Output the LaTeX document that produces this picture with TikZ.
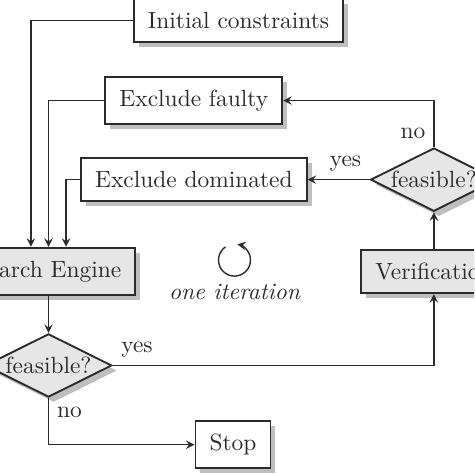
\documentclass[tikz,border=0pt]{standalone}
\usetikzlibrary{arrows,positioning,shapes.geometric,shadows}
\definecolor{ink}{HTML}{2B2B2B}
\definecolor{proc}{HTML}{E6E6E6}
\tikzset{
  >=stealth,
  every node/.style={text=ink},
  box/.style={draw=ink,thick,fill=white,inner xsep=6pt,inner ysep=5.6pt,drop shadow},
  procbox/.style={box,fill=proc},
  decision/.style={diamond,aspect=2,inner sep=0.5pt,draw=ink,thick,fill=proc,drop shadow},
  arrow/.style={->,semithick,draw=ink},
}
\begin{document}
\begin{tikzpicture}[node distance=5.5mm and 33.6mm]
\path[use as bounding box,clip] (-7.275mm,-30.375mm) rectangle (63.825mm,40.725mm);

\node[procbox] (search) {Search Engine};
\node[decision,below=of search] (feas1) {feasible?};
\node[procbox,right=of search] (verif) {Verification};
\node[decision,above=of verif] (feas2) {feasible?};
\node[box,left=9.3mm of feas2] (dominated) {Exclude dominated};
\node[box,above=4.8mm of dominated] (faulty) {Exclude faulty};
\node[box,above=5mm of faulty,xshift=6.7mm] (init) {Initial constraints};
\node[box,below right=3.3mm and 21.9mm of feas1.south] (stop) {Stop};

% one iteration
\node[font=\itshape] (iter) at (27.9mm,-3.1mm) {one iteration};
\draw[arrow] (iter.north) ++(0,2.4mm) ++(125:2.4mm) arc[start angle=125,end angle=440,radius=2.4mm];

\draw[arrow] (init.west) -| ([xshift=-7.5pt]search.north);
\draw[arrow] (faulty.west) -| (search.north);
\draw[arrow] (dominated.west) -| ([xshift=7.5pt]search.north);

\draw[arrow] (search) -- (feas1);
\draw[arrow] (feas1.east) node[above right] {yes} -| (verif.south);
\draw[arrow] (feas1.south) node[below right] {no} |- (stop.west);
\draw[arrow] (verif) -- (feas2);
\draw[arrow] (feas2.west) node[above left] {yes} -- (dominated.east);
\draw[arrow] (feas2.north) node[above left] {no} |- (faulty.east);

\end{tikzpicture}
\end{document}
